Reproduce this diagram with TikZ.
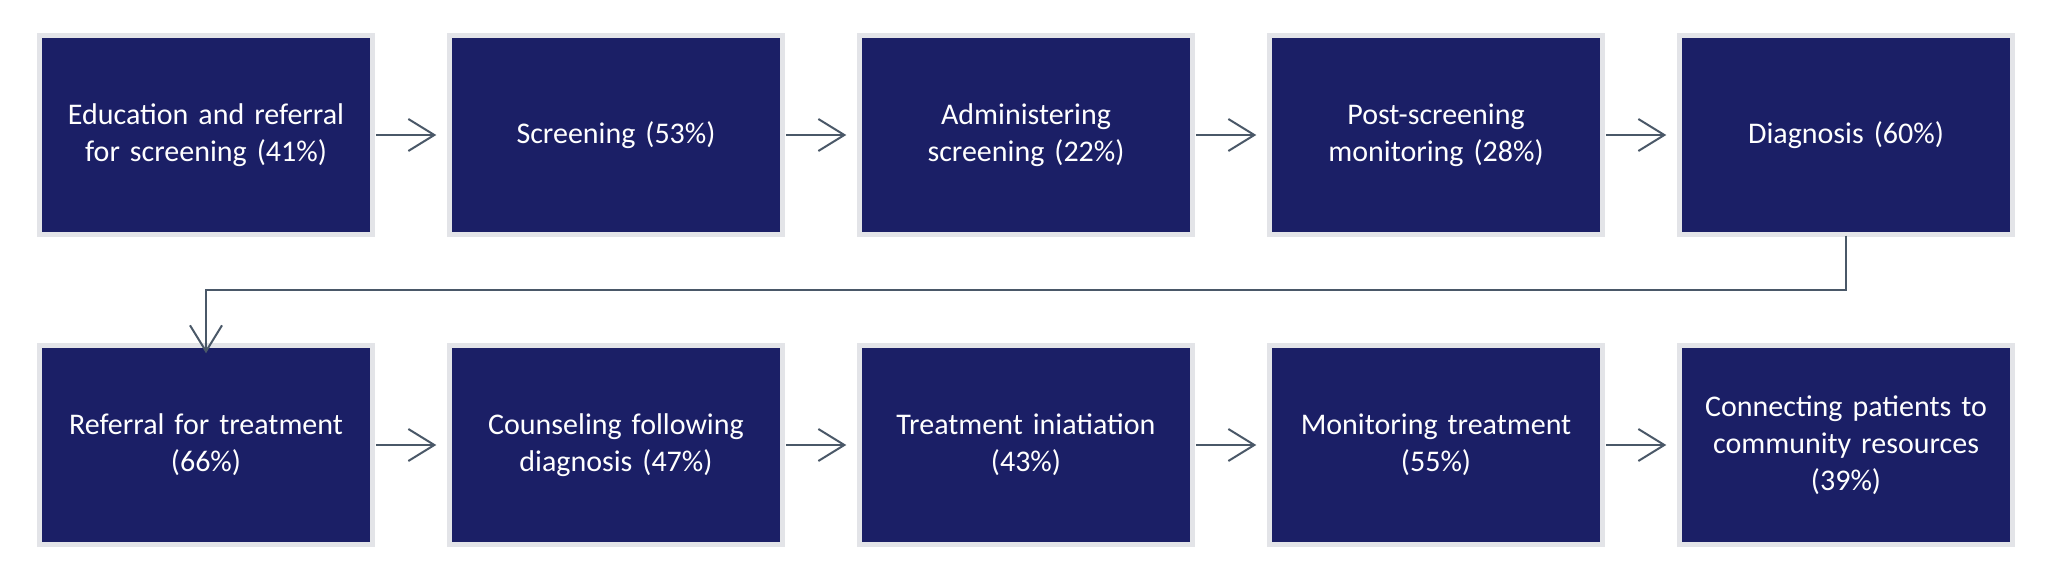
\documentclass[tikz,border=0pt]{standalone}
\usepackage{fontspec}
\setmainfont{Carlito}
\usetikzlibrary{arrows.meta}
\definecolor{navy}{HTML}{1B1F66}
\definecolor{bord}{HTML}{E3E4E8}
\definecolor{arr}{HTML}{4A5868}
\begin{document}
\begin{tikzpicture}[x=1pt,y=-1pt,
  box/.style={draw=bord,line width=4.5pt,fill=navy,minimum width=333pt,minimum height=199pt,inner sep=0pt,
    text=white,align=center,text width=320pt,font=\fontsize{30}{37}\selectfont},
  conn/.style={draw=arr,line width=2pt,-{Straight Barb[length=26pt,width=32pt,line width=2pt]}}]
\useasboundingbox (0,0) rectangle (2048,585);
\foreach \i/\t [count=\k from 0] in {a/{Education and referral\\for screening (41\%)},b/{Screening (53\%)},c/{Administering\\screening (22\%)},d/{Post-screening\\monitoring (28\%)},e/{Diagnosis (60\%)}}
  \node[box] (\i) at ({206+410*\k},135) {\t};
\foreach \i/\t [count=\k from 0] in {f/{Referral for treatment\\(66\%)},g/{Counseling following\\diagnosis (47\%)},h/{Treatment iniatiation\\(43\%)},m/{Monitoring treatment\\(55\%)},n/{Connecting patients to\\community resources\\(39\%)}}
  \node[box] (\i) at ({206+410*\k},445) {\t};
\foreach \u/\v in {a/b,b/c,c/d,d/e,f/g,g/h,h/m,m/n}
  \draw[conn] ([xshift=1pt]\u.east) -- ([xshift=-11pt]\v.west);
\coordinate (turn) at (e.south |- 0,290);
\draw[conn] ([yshift=1pt]e.south) -- (turn) -- (f.north |- turn) -- ([yshift=-10pt]f.north);
\end{tikzpicture}
\end{document}
